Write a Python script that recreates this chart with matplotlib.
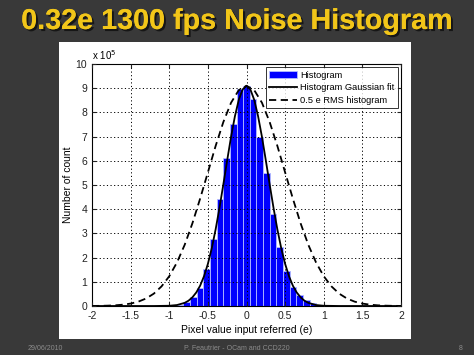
import matplotlib
matplotlib.use("Agg")
import matplotlib.pyplot as plt
from matplotlib.patches import Rectangle
import matplotlib.patheffects as pe

plt.rcParams['font.family'] = ['Liberation Sans', 'DejaVu Sans']

# histogram bins (e) and counts (x 1e5)
bin_width = 0.086
bin_index = list(range(-11, 13))
counts = [0.02, 0.06, 0.16, 0.36, 0.76, 1.54, 2.75, 4.42, 6.1, 7.5, 8.95, 9.1,
          8.55, 7.0, 5.5, 3.8, 2.42, 1.44, 0.8, 0.45, 0.25, 0.13, 0.06, 0.03]

# gaussian fit
fit_x = [-2.0, -1.2, -1.0, -0.9, -0.8, -0.75, -0.7, -0.65, -0.6, -0.55, -0.5, -0.45,
         -0.4, -0.35, -0.3, -0.25, -0.2, -0.15, -0.1, -0.05, 0.0, 0.05, 0.1, 0.15,
         0.2, 0.25, 0.3, 0.35, 0.4, 0.45, 0.5, 0.55, 0.6, 0.65, 0.7, 0.75, 0.8,
         0.9, 1.0, 1.2, 2.0]
fit_y = [0.0, 0.0, 0.01, 0.04, 0.13, 0.22, 0.36, 0.56, 0.84, 1.23, 1.74, 2.38,
         3.16, 4.05, 5.02, 6.02, 6.99, 7.84, 8.52, 8.95, 9.1, 8.95, 8.52, 7.84,
         6.99, 6.02, 5.02, 4.05, 3.16, 2.38, 1.74, 1.23, 0.84, 0.56, 0.36, 0.22,
         0.13, 0.04, 0.01, 0.0, 0.0]

# 0.5 e RMS reference curve
rms_x = [-2.0, -1.9, -1.8, -1.7, -1.6, -1.5, -1.4, -1.3, -1.2, -1.1, -1.0, -0.9,
         -0.8, -0.7, -0.6, -0.5, -0.4, -0.3, -0.2, -0.1, 0.0, 0.1, 0.2, 0.3, 0.4,
         0.5, 0.6, 0.7, 0.8, 0.9, 1.0, 1.1, 1.2, 1.3, 1.4, 1.5, 1.6, 1.7, 1.8,
         1.9, 2.0]
rms_y = [0.003, 0.006, 0.014, 0.028, 0.055, 0.10, 0.18, 0.31, 0.51, 0.81, 1.23,
         1.80, 2.53, 3.42, 4.44, 5.52, 6.61, 7.60, 8.40, 8.92, 9.1, 8.92, 8.40,
         7.60, 6.61, 5.52, 4.44, 3.42, 2.53, 1.80, 1.23, 0.81, 0.51, 0.31, 0.18,
         0.10, 0.055, 0.028, 0.014, 0.006, 0.003]

x_ticks = [-2, -1.5, -1, -0.5, 0, 0.5, 1, 1.5, 2]
x_ticklabels = ['-2', '-1.5', '-1', '-0.5', '0', '0.5', '1', '1.5', '2']
y_ticks = list(range(0, 11))

fig = plt.figure(figsize=(4.74, 3.55), dpi=100)
fig.patch.set_facecolor('#393939')

# white panel behind the plot
fig.patches.append(Rectangle((59 / 474, 1 - 339 / 355), 352 / 474, 297 / 355,
                             transform=fig.transFigure, facecolor='white',
                             edgecolor='none', zorder=-5))

fig.text(0.5, 1 - 21 / 355, '0.32e 1300 fps Noise Histogram', ha='center', va='center',
         fontsize=20.7, fontweight='bold', color='#f2c619',
         path_effects=[pe.withSimplePatchShadow(offset=(1.5, -1.5), shadow_rgbFace='black', alpha=0.6),
                       pe.Normal()])

ax = fig.add_axes([92 / 474, 1 - 306 / 355, 309 / 474, 242 / 355])
ax.set_zorder(1)
centers = [k * bin_width for k in bin_index]
bars = ax.bar(centers, counts, width=bin_width, color='#0000ff', edgecolor='#b4bcff',
              linewidth=0.6, label='Histogram', zorder=2)
fit_line, = ax.plot(fit_x, fit_y, color='black', lw=1.3, label='Histogram Gaussian fit', zorder=3)
rms_line, = ax.plot(rms_x, rms_y, color='black', lw=1.3, ls=(0, (4, 2.5)),
                    label='0.5 e RMS histogram', zorder=3)

ax.set_xlim(-2, 2)
ax.set_ylim(0, 10)
ax.set_xticks(x_ticks)
ax.set_xticklabels(x_ticklabels)
ax.set_yticks(y_ticks)
ax.tick_params(direction='in', length=3, labelsize=7.5, colors='#222222', top=True, right=True)
ax.grid(True, color='black', ls=(0, (1.2, 2.5)), lw=0.7)
ax.set_axisbelow(False)
for s in ax.spines.values():
    s.set_linewidth(0.8)

ax.set_xlabel('Pixel value input referred (e)', fontsize=7.5, labelpad=3)
ax.set_ylabel('Number of count', fontsize=7.5, labelpad=2)
ax.text(0.0, 1.01, 'x 10$^5$', transform=ax.transAxes, fontsize=7, va='bottom', ha='left')

leg = ax.legend([bars, fit_line, rms_line],
                ['Histogram', 'Histogram Gaussian fit', '0.5 e RMS histogram'],
                loc='upper right', fontsize=6.7, frameon=True, fancybox=False,
                borderpad=0.35, labelspacing=0.4, handlelength=3.0, handletextpad=0.35,
                borderaxespad=0.35)
leg.get_frame().set_edgecolor('black')
leg.get_frame().set_linewidth(0.7)

fig.text(45 / 474, 1 - 348 / 355, '29/06/2010', fontsize=5, color='#8c8c8c', ha='center', va='center')
fig.text(237 / 474, 1 - 348 / 355, 'P. Feautrier - OCam and CCD220', fontsize=5, color='#8c8c8c',
         ha='center', va='center')
fig.text(461 / 474, 1 - 348 / 355, '8', fontsize=5, color='#8c8c8c', ha='center', va='center')

fig.savefig('out.png', dpi=100, facecolor=fig.get_facecolor())
